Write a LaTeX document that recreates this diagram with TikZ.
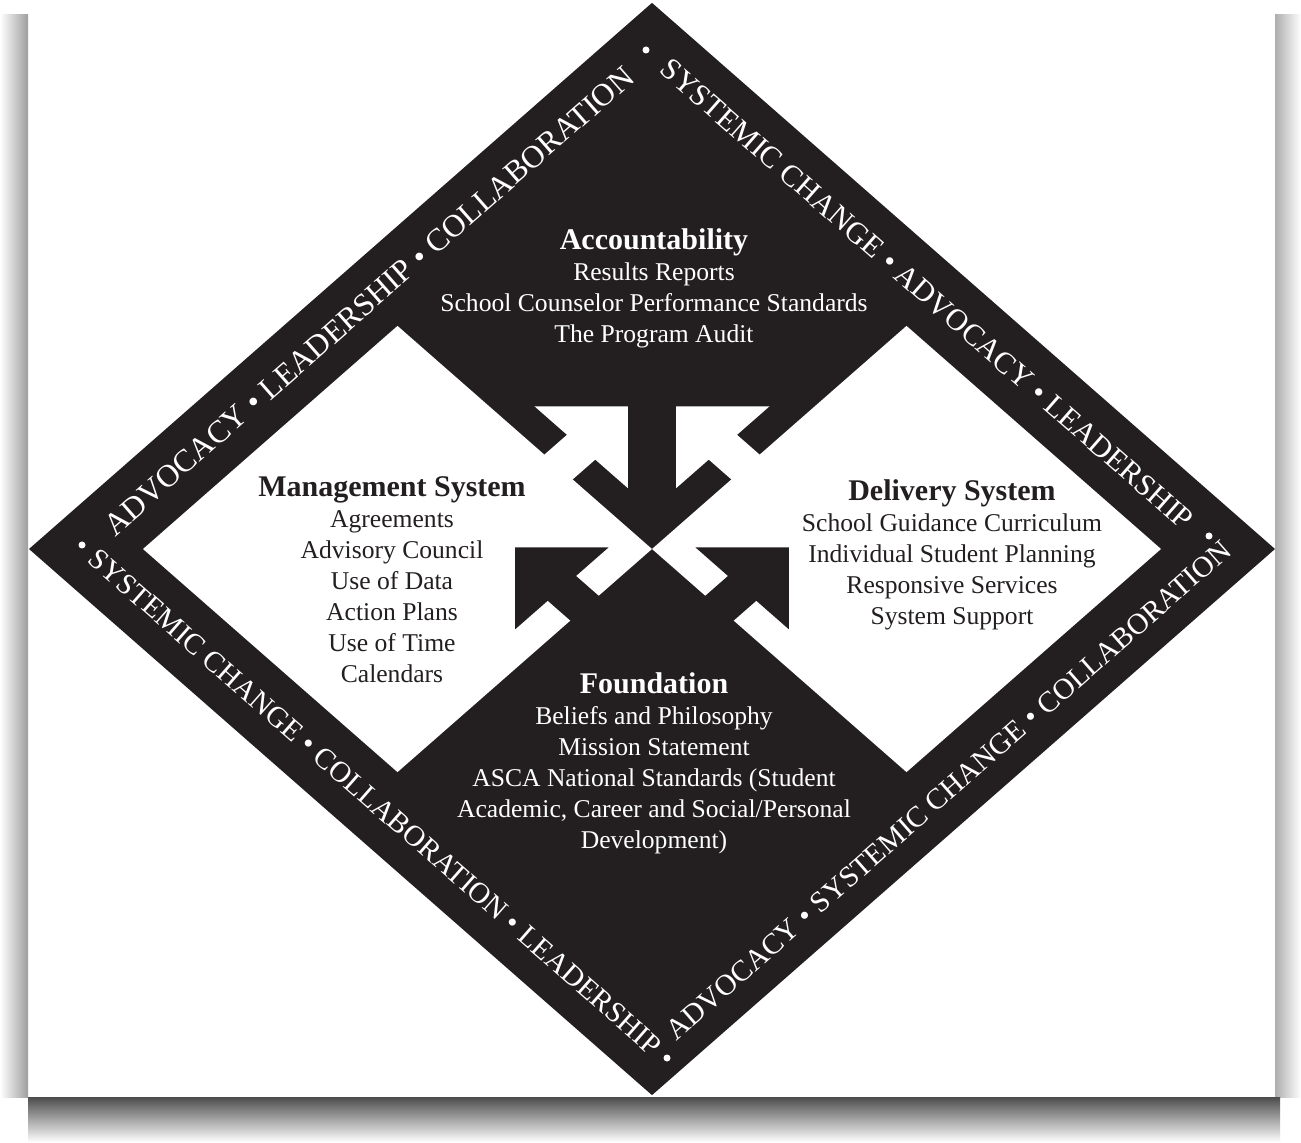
\documentclass[tikz,border=0pt]{standalone}
\usepackage{fontspec}
\setmainfont{Liberation Serif}
\usetikzlibrary{shapes}
\definecolor{ink}{RGB}{35,31,32}
\tikzstyle{band} = [text=white, inner sep=0pt, font=\fontsize{15.25}{16}\selectfont]
\tikzstyle{block} = [align=center, inner sep=0pt, font=\fontsize{12.8}{15.5}\selectfont]
\newcommand{\blockhead}[1]{{\fontsize{15}{15.5}\selectfont\bfseries #1}}

\begin{document}
\begin{tikzpicture}[x=0.5pt, y=0.5pt]
	\useasboundingbox (0,0) rectangle (1301,1142);
	\fill[white] (0,0) rectangle (1301,1142);
	
	% page shadow
	\shade[left color=white, right color=black!38] (0,45) rectangle (28,1127);
	\shade[left color=black!32, right color=white] (1275,45) rectangle (1301,1127);
	\shade[top color=black!70, bottom color=white] (28,0) rectangle (1280,45);
	
	% diamond, drawn square and squashed
	\begin{scope}[shift={(652,593)}, yscale=0.8766]
		\fill[ink] (-623,0) -- (0,623) -- (623,0) -- (0,-623) -- cycle;
		\fill[white] (-509,0) -- (-254.5,254.5) -- (0,0) -- (-254.5,-254.5) -- cycle;
		\fill[white] (509,0) -- (254.5,254.5) -- (0,0) -- (254.5,-254.5) -- cycle;
		
		% arrows
		\fill[white, shift={(-93.5,93.5)}, rotate=45] (-3,-20) -- (32,-20) -- (32,-66) -- (98,0) -- (32,66) -- (32,20) -- (-3,20) -- cycle;
		\fill[white, shift={(93.5,93.5)}, rotate=135] (-3,-20) -- (32,-20) -- (32,-66) -- (98,0) -- (32,66) -- (32,20) -- (-3,20) -- cycle;
		\fill[ink, shift={(-67.5,-67.5)}, rotate=135] (-3,-20) -- (32,-20) -- (32,-66) -- (98,0) -- (32,66) -- (32,20) -- (-3,20) -- cycle;
		\fill[ink, shift={(67.5,-67.5)}, rotate=45] (-3,-20) -- (32,-20) -- (32,-66) -- (98,0) -- (32,66) -- (32,20) -- (-3,20) -- cycle;
	\end{scope}
	
	% band texts
	\node[band, rotate=41.23, font=\fontsize{15.85}{16}\selectfont] (ul) at (369,841) {ADVOCACY~\textbullet~LEADERSHIP~\textbullet~COLLABORATION};
	\node[band, rotate=-41.23] (ur) at (927,848) {SYSTEMIC CHANGE~\textbullet~ADVOCACY~\textbullet~LEADERSHIP};
	\node[band, rotate=41.23, font=\fontsize{14.75}{16}\selectfont] (lr) at (948.5,352) {ADVOCACY~\textbullet~SYSTEMIC CHANGE~\textbullet~COLLABORATION};
	\node[band, rotate=-41.23, font=\fontsize{14.7}{16}\selectfont] (ll) at (375,340) {SYSTEMIC CHANGE~\textbullet~COLLABORATION~\textbullet~LEADERSHIP};
	
	\fill[white] (82,597) circle[radius=3.5];
	\fill[white] (646,1092) circle[radius=3.5];
	\fill[white] (1209,606) circle[radius=3.5];
	\fill[white] (667,84) circle[radius=3.5];
	
	% the four blocks
	\node[block, text=white] (acc) at (654,854) {\blockhead{Accountability}\\ Results Reports\\ School Counselor Performance Standards\\ The Program Audit};
	
	\node[block, text=white, below of=acc, node distance=237.5pt] (fnd) {\blockhead{Foundation}\\ Beliefs and Philosophy\\ Mission Statement\\ ASCA National Standards (Student\\ Academic, Career and Social/Personal\\ Development)};
	
	\node[block, text=ink] (mgmt) at (392,562.5) {\blockhead{Management System}\\ Agreements\\ Advisory Council\\ Use of Data\\ Action Plans\\ Use of Time\\ Calendars};
	
	\node[block, text=ink] (dlv) at (952,587.5) {\blockhead{Delivery System}\\ School Guidance Curriculum\\ Individual Student Planning\\ Responsive Services\\ System Support};
\end{tikzpicture}
\end{document}
